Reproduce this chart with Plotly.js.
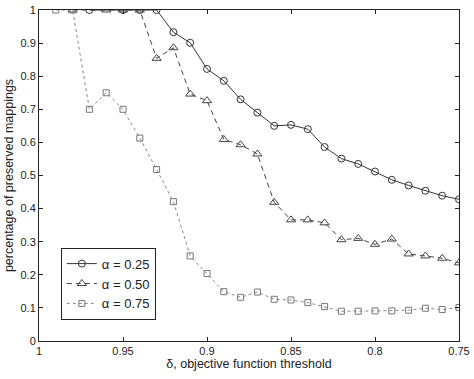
<!DOCTYPE html>
<html>
<head>
<meta charset="utf-8">
<script src="https://cdn.plot.ly/plotly-3.0.1.min.js"></script>
<style>html,body{margin:0;padding:0;background:#fff;}#chart{width:474px;height:379px;}</style>
</head>
<body>
<div id="chart"></div>
<script>
var x25 = [0.97, 0.95, 0.94, 0.93, 0.92, 0.91, 0.90, 0.89, 0.88, 0.87, 0.86, 0.85, 0.84, 0.83, 0.82, 0.81, 0.80, 0.79, 0.78, 0.77, 0.76, 0.75];
var y25 = [1, 1, 1, 1, 0.933, 0.901, 0.822, 0.786, 0.730, 0.690, 0.650, 0.653, 0.640, 0.586, 0.551, 0.535, 0.512, 0.487, 0.470, 0.454, 0.439, 0.428];
var x50 = [0.98, 0.96, 0.95, 0.94, 0.93, 0.92, 0.91, 0.90, 0.89, 0.88, 0.87, 0.86, 0.85, 0.84, 0.83, 0.82, 0.81, 0.80, 0.79, 0.78, 0.77, 0.76, 0.75];
var y50 = [1, 1, 1, 1, 0.854, 0.886, 0.746, 0.726, 0.609, 0.593, 0.565, 0.419, 0.366, 0.366, 0.357, 0.306, 0.310, 0.292, 0.308, 0.263, 0.257, 0.250, 0.236];
var x75 = [0.99, 0.98, 0.97, 0.96, 0.95, 0.94, 0.93, 0.92, 0.91, 0.90, 0.89, 0.88, 0.87, 0.86, 0.85, 0.84, 0.83, 0.82, 0.81, 0.80, 0.79, 0.78, 0.77, 0.76, 0.75];
var y75 = [1, 1, 0.70, 0.75, 0.70, 0.613, 0.518, 0.421, 0.257, 0.204, 0.149, 0.132, 0.148, 0.126, 0.124, 0.116, 0.104, 0.090, 0.090, 0.091, 0.091, 0.093, 0.099, 0.095, 0.101];
var names = ['\u03b1 = 0.25', '\u03b1 = 0.50', '\u03b1 = 0.75'];
var xTicks = [1, 0.95, 0.9, 0.85, 0.8, 0.75];
var xTickText = ['1', '0.95', '0.9', '0.85', '0.8', '0.75'];
var yTicks = [0, 0.1, 0.2, 0.3, 0.4, 0.5, 0.6, 0.7, 0.8, 0.9, 1];
var yTickText = ['0', '0.1', '0.2', '0.3', '0.4', '0.5', '0.6', '0.7', '0.8', '0.9', '1'];

var traces = [
  {x: x25, y: y25, name: names[0], mode: 'lines+markers', type: 'scatter',
   line: {color: '#333333', width: 1, dash: 'solid'},
   marker: {symbol: 'circle-open', size: 7, color: '#333333', line: {width: 1}}},
  {x: x50, y: y50, name: names[1], mode: 'lines+markers', type: 'scatter',
   line: {color: '#444444', width: 1, dash: '5px,4px'},
   marker: {symbol: 'triangle-up-open', size: 8, color: '#444444', line: {width: 1}}},
  {x: x75, y: y75, name: names[2], mode: 'lines+markers', type: 'scatter',
   line: {color: '#888888', width: 1, dash: 'dot'},
   marker: {symbol: 'square-open', size: 6, color: '#777777', line: {width: 1}}}
];

var layout = {
  width: 474, height: 379,
  margin: {l: 39, r: 15, t: 10, b: 38},
  paper_bgcolor: '#ffffff', plot_bgcolor: '#ffffff',
  font: {family: 'Liberation Sans, Arial, sans-serif', size: 11, color: '#222'},
  showlegend: true,
  legend: {x: 0.052, y: 0.282, xanchor: 'left', yanchor: 'top',
    bordercolor: '#222', borderwidth: 1, bgcolor: '#fff',
    font: {size: 13, color: '#222'}, itemwidth: 30, tracegroupgap: 0},
  xaxis: {range: [1, 0.75], tickvals: xTicks, ticktext: xTickText,
    ticks: 'inside', ticklen: 4, tickcolor: '#222', mirror: 'ticks',
    showline: true, linecolor: '#222', linewidth: 1, showgrid: false, zeroline: false,
    tickfont: {size: 11},
    title: {text: '\u03b4, objective function threshold', font: {size: 12.5}, standoff: 3}},
  yaxis: {range: [0, 1], tickvals: yTicks, ticktext: yTickText,
    ticks: 'inside', ticklen: 4, tickcolor: '#222', mirror: 'ticks',
    showline: true, linecolor: '#222', linewidth: 1, showgrid: false, zeroline: false,
    tickfont: {size: 11},
    title: {text: 'percentage of preserved mappings', font: {size: 12.5}, standoff: 4}}
};

Plotly.newPlot('chart', traces, layout, {displayModeBar: false, staticPlot: true});
</script>
</body>
</html>
